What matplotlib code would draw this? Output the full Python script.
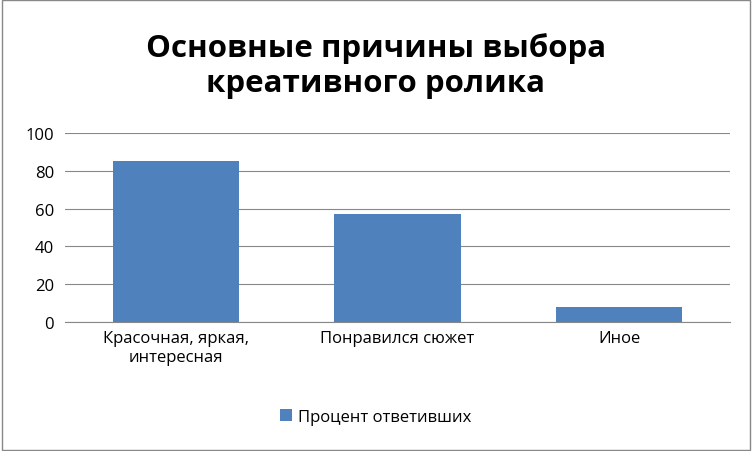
import matplotlib
matplotlib.use("Agg")
import matplotlib.pyplot as plt
from matplotlib.patches import Rectangle

categories = ["Красочная, яркая,\nинтересная", "Понравился сюжет", "Иное"]
values = [85, 57, 8]
series_name = "Процент ответивших"
yticks = [0, 20, 40, 60, 80, 100]

plt.rcParams['font.family'] = ['Open Sans', 'DejaVu Sans']
fig = plt.figure(figsize=(7.52, 4.52), dpi=100)
ax = fig.add_axes([65/752, 129/452, 665/752, 189/452])
x = range(len(categories))
ax.bar(x, values, width=0.57, color="#4F81BD", label=series_name, zorder=3)
ax.set_xlim(-0.5, 2.5)
ax.set_ylim(0, 100)
ax.set_yticks(yticks)
ax.set_xticks(list(x))
ax.set_xticklabels(categories, fontsize=12)
ax.tick_params(axis='y', labelsize=12, length=0, pad=8)
ax.tick_params(axis='x', length=0, pad=6)
ax.grid(axis='y', color="#888888", linewidth=0.8, zorder=0)
for s in ["top", "right", "left"]:
    ax.spines[s].set_visible(False)
ax.spines["bottom"].set_color("#888888")
fig.text(0.5, 1 - 66/452, "Основные причины выбора\nкреативного ролика", ha="center", va="center",
         fontsize=22.5, fontweight="bold", linespacing=1.2)
fig.legend(loc="center", bbox_to_anchor=(0.5, 1 - 418/452), frameon=False, fontsize=12,
           handlelength=0.7, handleheight=0.7, handletextpad=0.4)
fig.patches.append(Rectangle((0.002, 0.002), 0.996, 0.996, transform=fig.transFigure,
                             fill=False, edgecolor="#888888", linewidth=1))
fig.savefig("out.png", dpi=100)
